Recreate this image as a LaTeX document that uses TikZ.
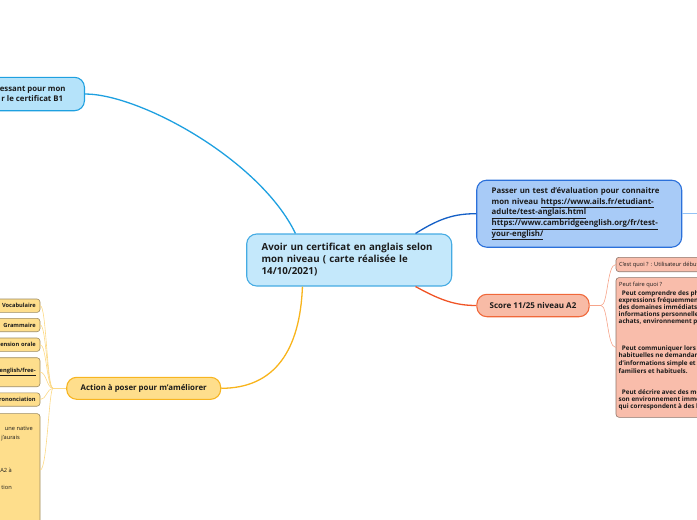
\documentclass[tikz,border=0pt]{standalone}
\usepackage{fontspec}
\setmainfont{Open Sans}
\usetikzlibrary{calc}
\definecolor{tlfill}{HTML}{B5E3FA}
\definecolor{tldraw}{HTML}{1EA0E0}
\definecolor{cfill}{HTML}{C4E8FB}
\definecolor{cdraw}{HTML}{45ABE3}
\definecolor{tfill}{HTML}{A8CBF7}
\definecolor{tdraw}{HTML}{2B70DA}
\definecolor{tedge}{HTML}{1560C6}
\definecolor{tchild}{HTML}{93C2F5}
\definecolor{sfill}{HTML}{F8BBA6}
\definecolor{sdraw}{HTML}{F0683A}
\definecolor{sedge}{HTML}{F05426}
\definecolor{scfill}{HTML}{F9BDAB}
\definecolor{scdraw}{HTML}{8E7469}
\definecolor{scedge}{HTML}{F6A48A}
\definecolor{afill}{HTML}{FEDE8C}
\definecolor{adraw}{HTML}{F7B521}
\definecolor{aedge}{HTML}{F8B41C}
\definecolor{acdraw}{HTML}{9C8A60}
\definecolor{acedge}{HTML}{FCD985}
\definecolor{txt}{HTML}{1B1B1B}
\tikzset{
  mainbox/.style={draw, line width=1.1pt, rounded corners=10pt, inner sep=0pt, text=txt},
  childbox/.style={draw, line width=0.6pt, rounded corners=3pt, inner sep=0pt},
  lchild/.style={childbox, fill=afill, draw=acdraw, anchor=east, minimum height=13.4pt,
    text width=70pt, align=right, inner xsep=4.3pt, text=txt,
    font=\bfseries\fontsize{5.7}{7}\selectfont},
  sline/.style={anchor=base west, inner sep=0pt, text=txt, font=\bfseries\fontsize{6.3}{7}\selectfont},
  frag/.style={inner sep=0pt, text=txt},
  mainedge/.style={line width=1.3pt},
  subedge/.style={line width=0.6pt},
}
\begin{document}
\begin{tikzpicture}[x=1pt,y=-1pt]
\useasboundingbox (0,0) rectangle (697,520);
\clip (0,0) rectangle (697,520);

% ---------- top-left node (cut by the frame)
\node[mainbox, fill=tlfill, draw=tldraw, minimum width=150pt, minimum height=33.4pt, anchor=east] (tl) at (85,94) {};
\node[frag, anchor=base east, font=\bfseries\fontsize{7.8}{10}\selectfont] (tlA) at (65.7,91.1) {essant pour mon};
\node[frag, anchor=base east, font=\bfseries\fontsize{7.8}{10}\selectfont] (tlB) at (63.3,101.4) {r le certificat B1};

% ---------- centre
\node[mainbox, fill=cfill, draw=cdraw, minimum width=205pt, minimum height=52pt,
      text width=175pt, align=left, font=\bfseries\fontsize{9.7}{12}\selectfont] (center) at (349.2,260)
  {Avoir un certificat en anglais selon\\mon niveau ( carte réalisée le\\14/10/2021)};

% ---------- test node
\node[mainbox, fill=tfill, draw=tdraw, minimum width=205pt, minimum height=67pt,
      text width=175pt, align=left, font=\bfseries\fontsize{7.8}{10.7}\selectfont] (test) at (579.2,213.7)
  {Passer un test d'évaluation pour connaitre\\mon niveau \underline{https://www.ails.fr/etudiant-}\\\underline{adulte/test-anglais.html}\\\underline{https://www.cambridgeenglish.org/fr/test-}\\\underline{your-english/}};
\coordinate (tc) at (700,213.7);

% ---------- score
\node[mainbox, fill=sfill, draw=sdraw, minimum width=112.3pt, minimum height=22.4pt,
      font=\bfseries\fontsize{8}{9}\selectfont] (score) at (533,305.5) {Score 11/25 niveau A2};

\node[childbox, fill=scfill, draw=scdraw, anchor=west, minimum height=14.4pt, minimum width=120pt] (sc1) at (615.7,264.5) {};
\node[frag, anchor=base west, font=\fontsize{5.7}{7}\selectfont] (sc1t) at (619,266.5) {C'est quoi ? : Utilisateur débutant};

\node[childbox, fill=scfill, draw=scdraw, anchor=north west, minimum width=120pt, minimum height=139.7pt] (sc2) at (615.7,277.3) {};
\node[frag, anchor=base west, font=\fontsize{5.7}{7}\selectfont] (q0) at (619,286.3) {Peut faire quoi ?};
\node[sline] (q1) at (621.7,295.8) {Peut comprendre des phrases isolées et des};
\node[sline] (q2) at (618.5,302.8) {expressions fréquemment utilisées en relation};
\node[sline] (q3) at (618.5,309.8) {des domaines immédiats de priorité (par exemple,};
\node[sline] (q4) at (618.5,316.8) {informations personnelles et familiales simples,};
\node[sline] (q5) at (618.5,323.8) {achats, environnement proche, travail).};
\node[sline] (q6) at (621.7,350.8) {Peut communiquer lors de tâches simples et};
\node[sline] (q7) at (618.5,357.8) {habituelles ne demandant qu'un échange};
\node[sline] (q8) at (618.5,365.5) {d'informations simple et direct sur des sujets};
\node[sline] (q9) at (618.5,373.5) {familiers et habituels.};
\node[sline] (q10) at (621.7,394.2) {Peut décrire avec des moyens simples sa formation,};
\node[sline] (q11) at (618.5,401.6) {son environnement immédiat et évoquer des sujets};
\node[sline] (q12) at (618.5,408.8) {qui correspondent à des besoins immédiats.};

% ---------- action
\node[mainbox, fill=afill, draw=adraw, minimum width=154pt, minimum height=22pt,
      font=\bfseries\fontsize{7.85}{9}\selectfont] (action) at (143.7,388.3) {Action à poser pour m'améliorer};

\node[lchild] (voc) at (40.3,305.7) {Vocabulaire};
\node[lchild] (gram) at (40.3,325) {Grammaire};
\node[lchild] (comp) at (40.3,344.7) {Compréhension orale};
\node[lchild, minimum height=29pt] (link) at (40.3,372.2) {\underline{english/free-}};
\node[lchild] (pron) at (40.3,399.5) {Prononciation};
\node[childbox, fill=afill, draw=acdraw, anchor=north east, minimum width=80pt, minimum height=130pt] (big) at (40.3,413.3) {};
\node[frag, anchor=base east, font=\fontsize{5.7}{7}\selectfont] (bA) at (33,430.6) {une native};
\node[frag, anchor=base east, font=\fontsize{5.7}{7}\selectfont] (bB) at (20,439.6) {j'aurais};
\node[frag, anchor=base east, font=\fontsize{5.7}{7}\selectfont] (bC) at (12,472.6) {A2 à};
\node[frag, anchor=base east, font=\fontsize{5.7}{7}\selectfont] (bD) at (12,489.6) {tion};
\coordinate (bigin) at ($(big.north east)+(0,56.7)$);

% ---------- connectors
\draw[mainedge, tldraw] (tl.east) .. controls (140,94) and (260,160) .. ($(center.north west)+(49.3,0)$);
\draw[mainedge, tedge] ($(center.north east)+(-36.7,0)$) .. controls (440,218) and (455,213.7) .. (test.west);
\draw[subedge, tchild, line width=1pt] (test.east) -- (tc);
\draw[mainedge, sedge] ($(center.south east)+(-36.7,0)$) .. controls (440,300) and (455,305.5) .. (score.west);
\draw[mainedge, aedge] ($(center.south west)+(56.3,0)$) .. controls (300,350) and (275,388.3) .. (action.east);

\coordinate (sj) at (601,305.5);
\draw[subedge, scedge] (score.east) -- (sj);
\draw[subedge, scedge] (sj) .. controls (608,305.5) and (607,264.5) .. (sc1.west);
\draw[subedge, scedge] (sj) .. controls (608,305.5) and (607,347.2) .. (sc2.west);

\coordinate (aj) at (53,388.3);
\draw[subedge, acedge] (action.west) -- (aj);
\foreach \c in {voc,gram,comp,link,pron}
  \draw[subedge, acedge] (aj) .. controls (47,388.3) and ($(\c.east)+(6,0)$) .. (\c.east);
\draw[subedge, acedge] (aj) .. controls (49,388.3) and (47,470) .. (bigin);
\end{tikzpicture}
\end{document}
